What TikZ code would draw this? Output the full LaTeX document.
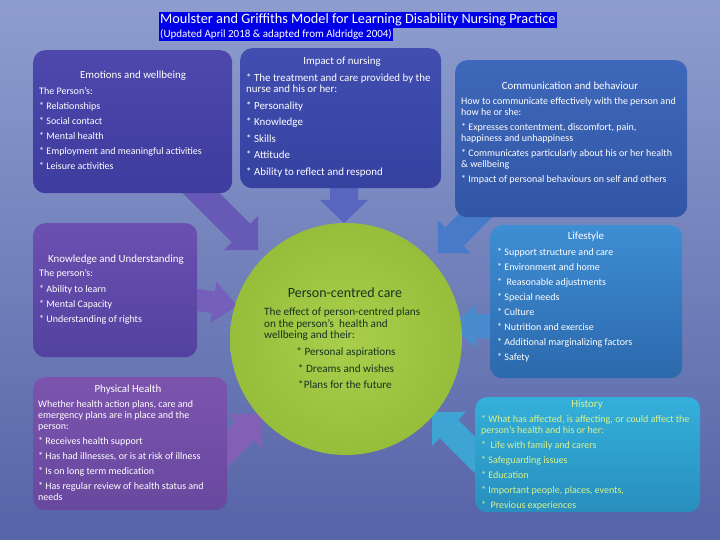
\documentclass[tikz,border=0pt]{standalone}
\usepackage{fontspec}
\setmainfont{Carlito}
\usetikzlibrary{calc}
\definecolor{bgtop}{RGB}{142,157,206}
\definecolor{bgbot}{RGB}{86,100,168}
\definecolor{hl}{RGB}{0,0,232}
\definecolor{emoT}{RGB}{78,72,172}\definecolor{emoB}{RGB}{62,60,158}
\definecolor{impT}{RGB}{66,78,176}\definecolor{impB}{RGB}{54,66,160}
\definecolor{comT}{RGB}{62,104,186}\definecolor{comB}{RGB}{50,86,166}
\definecolor{knoT}{RGB}{108,80,176}\definecolor{knoB}{RGB}{82,66,160}
\definecolor{phyT}{RGB}{124,84,174}\definecolor{phyB}{RGB}{104,72,158}
\definecolor{lifT}{RGB}{62,142,212}\definecolor{lifB}{RGB}{44,104,172}
\definecolor{hisT}{RGB}{52,176,218}\definecolor{hisB}{RGB}{40,142,190}
\definecolor{grnIn}{RGB}{170,206,76}\definecolor{grnOut}{RGB}{150,190,58}
\definecolor{histxt}{RGB}{218,242,140}
\definecolor{circtxt}{RGB}{22,52,34}
\definecolor{arEmo}{RGB}{102,90,182}
\definecolor{arImp}{RGB}{88,102,192}
\definecolor{arCom}{RGB}{72,122,202}
\definecolor{arKno}{RGB}{116,96,186}
\definecolor{arPhy}{RGB}{130,96,182}
\definecolor{arLif}{RGB}{72,140,206}
\definecolor{arHis}{RGB}{62,164,212}
\newcommand\blockarrow[6]{%
  \coordinate (ba-c) at ($(#2)!#5!(#1)$);
  \fill[#6] ($(#1)!#3!90:(#2)$) -- ($(ba-c)!#3!90:(#2)$) -- ($(ba-c)!#4!90:(#2)$) -- (#2)
    -- ($(ba-c)!#4!-90:(#2)$) -- ($(ba-c)!#3!-90:(#2)$) -- ($(#1)!#3!-90:(#2)$) -- cycle;}
\tikzset{
  box/.style={rounded corners=12pt, inner sep=0pt, anchor=north west},
  ttl/.style={text=white, inner sep=0pt, font=\fontsize{10.9}{13}\selectfont},
  body/.style={anchor=north west, align=left, inner sep=0pt, text=white},
  hlnode/.style={fill=hl, text=white, anchor=north west, inner xsep=1pt, inner ysep=0pt},
}
\begin{document}
\begin{tikzpicture}[x=1pt,y=-1pt]
\useasboundingbox (0,0) rectangle (720,540);
\shade[top color=bgtop, bottom color=bgbot] (0,0) rectangle (720,540);

% title
\node[hlnode, text height=11.5pt, text depth=4.5pt, font=\fontsize{14.3}{16}\selectfont] (title) at (159,12)
  {Moulster and Griffiths Model for Learning Disability Nursing Practice};
\node[hlnode, text height=9pt, text depth=4pt, font=\fontsize{11}{12}\selectfont] (subtitle) at (159,28)
  {(Updated April 2018 \& adapted from Aldridge 2004)};

% block arrows
\coordinate (a1s) at (185,177); \coordinate (a1e) at (258,250);
\coordinate (a2s) at (344,180); \coordinate (a2e) at (344,223);
\coordinate (a3s) at (505,186); \coordinate (a3e) at (438,253);
\coordinate (a4s) at (185,298); \coordinate (a4e) at (237,306);
\coordinate (a5s) at (205,471); \coordinate (a5e) at (262,414);
\coordinate (a6s) at (505,326); \coordinate (a6e) at (452,326);
\coordinate (a7s) at (490,470); \coordinate (a7e) at (432,412);
\blockarrow{a1s}{a1e}{13pt}{24pt}{24pt}{arEmo}
\blockarrow{a2s}{a2e}{14pt}{24pt}{23pt}{arImp}
\blockarrow{a3s}{a3e}{13pt}{23.5pt}{23pt}{arCom}
\blockarrow{a4s}{a4e}{11pt}{21pt}{24pt}{arKno}
\blockarrow{a5s}{a5e}{13pt}{24pt}{24pt}{arPhy}
\blockarrow{a6s}{a6e}{12pt}{22pt}{24pt}{arLif}
\blockarrow{a7s}{a7e}{13pt}{24pt}{24pt}{arHis}

% boxes
\node[box, top color=emoT, bottom color=emoB, minimum width=199pt, minimum height=143pt] (emo) at (33,50) {};
\node[box, top color=impT, bottom color=impB, minimum width=201pt, minimum height=140pt] (imp) at (240,48) {};
\node[box, top color=comT, bottom color=comB, minimum width=232pt, minimum height=157pt] (com) at (455,60) {};
\node[box, top color=knoT, bottom color=knoB, minimum width=164pt, minimum height=134pt] (kno) at (33,223) {};
\node[box, top color=phyT, bottom color=phyB, minimum width=194pt, minimum height=133pt] (phy) at (33,377) {};
\node[box, top color=lifT, bottom color=lifB, minimum width=192pt, minimum height=153pt] (lif) at (490,225) {};
\node[box, top color=hisT, bottom color=hisB, minimum width=225pt, minimum height=115pt] (his) at (475,397) {};

% circle
\node[circle, inner color=grnIn, outer color=grnOut, minimum size=232pt, inner sep=0pt] (pcc) at (346,339) {};

% Emotions
\node[ttl] (emoT) at (133,76) {Emotions and wellbeing};
\node[body, font=\fontsize{10}{15}\selectfont] (emoB) at (39,87.5)
  {The Person's:\\ * Relationships\\ * Social contact\\ * Mental health\\ * Employment and meaningful activities\\ * Leisure activities};

% Impact of nursing
\node[ttl] (impT) at (342,62) {Impact of nursing};
\node[body, font=\fontsize{10.9}{16.5}\selectfont] (impB) at (246,74)
  {* The treatment and care provided by the\\[-5.5pt] nurse and his or her:\\ * Personality\\ * Knowledge\\ * Skills\\ * Attitude\\ * Ability to reflect and respond};

% Communication
\node[ttl] (comT) at (570,86) {Communication and behaviour};
\node[body, font=\fontsize{10}{11}\selectfont] (comB) at (461,97.5)
  {How to communicate effectively with the person and\\ how he or she:\\[4pt] * Expresses contentment, discomfort, pain,\\ happiness and unhappiness\\[4pt] * Communicates particularly about his or her health\\ \& wellbeing\\[4pt] * Impact of personal behaviours on self and others};

% Knowledge
\node[ttl] (knoT) at (116,260) {Knowledge and Understanding};
\node[body, font=\fontsize{10}{15.3}\selectfont] (knoB) at (39,269.5)
  {The person's:\\ * Ability to learn\\ * Mental Capacity\\ * Understanding of rights};

% Physical health
\node[ttl] (phyT) at (128,390) {Physical Health};
\node[body, font=\fontsize{10}{11}\selectfont] (phyB) at (38,400.5)
  {Whether health action plans, care and\\ emergency plans are in place and the\\ person:\\[4pt] * Receives health support\\[4pt] * Has had illnesses, or is at risk of illness\\[4pt] * Is on long term medication\\[4pt] * Has regular review of health status and\\ needs};

% Lifestyle
\node[ttl] (lifT) at (586,237) {Lifestyle};
\node[body, font=\fontsize{10}{15}\selectfont] (lifB) at (497,248.5)
  {* Support structure and care\\ * Environment and home\\ *\ \ Reasonable adjustments\\ * Special needs\\ * Culture\\ * Nutrition and exercise\\ * Additional marginalizing factors\\ * Safety};

% History
\node[ttl, text=histxt] (hisT) at (587,405) {History};
\node[body, text=histxt, font=\fontsize{10}{11}\selectfont] (hisB) at (481,415.5)
  {* What has affected, is affecting, or could affect the\\ person's health and his or her:\\[4pt] *\ \ Life with family and carers\\[4pt] * Safeguarding issues\\[4pt] * Education\\[4pt] * Important people, places, events,\\[4pt] *\ \ Previous experiences};

% Person-centred care
\node[text=circtxt, inner sep=0pt, font=\fontsize{14}{16}\selectfont] (pccT) at (345,293) {Person-centred care};
\node[body, text=circtxt, font=\fontsize{11.2}{11.5}\selectfont] (pccB) at (264,308)
  {The effect of person-centred plans\\ on the person's\ \ health and\\ wellbeing and their:};
\node[text=circtxt, inner sep=0pt, font=\fontsize{11.2}{12}\selectfont] (pcc1) at (346,352) {* Personal aspirations};
\node[text=circtxt, inner sep=0pt, font=\fontsize{11.2}{12}\selectfont] (pcc2) at (346,369) {* Dreams and wishes};
\node[text=circtxt, inner sep=0pt, font=\fontsize{11.2}{12}\selectfont] (pcc3) at (345,385) {*Plans for the future};
\end{tikzpicture}
\end{document}
